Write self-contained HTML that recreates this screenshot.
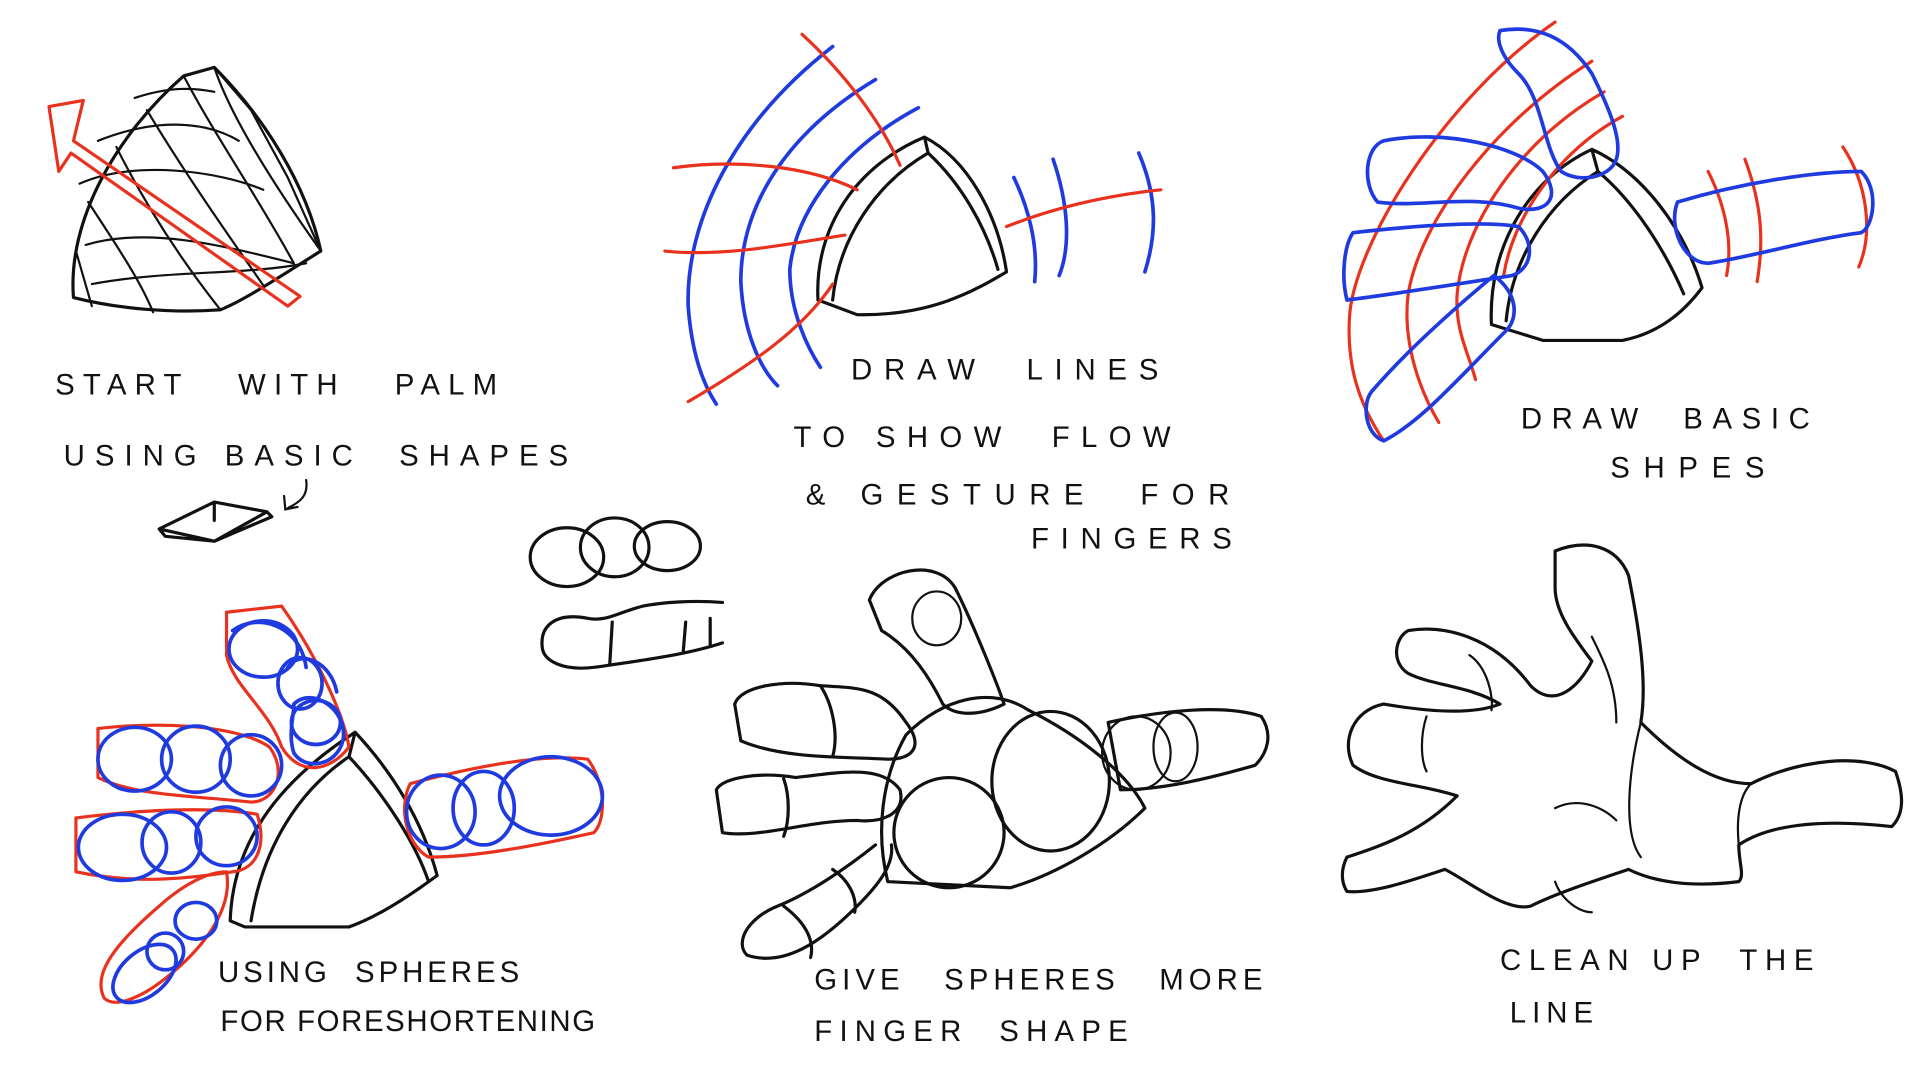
<!DOCTYPE html>
<html><head><meta charset="utf-8"><style>
html,body{margin:0;padding:0;background:#fff;width:1920px;height:1080px;overflow:hidden}
svg{display:block}
text{font-family:"Liberation Sans",sans-serif;font-size:24px;letter-spacing:4px;fill:#111}
.k{fill:none;stroke:#111;stroke-width:2.6;stroke-linecap:round;stroke-linejoin:round}
.kt{fill:none;stroke:#111;stroke-width:1.8;stroke-linecap:round}
.r{fill:none;stroke:#e8321e;stroke-width:2.6;stroke-linecap:round;stroke-linejoin:round}
.b{fill:none;stroke:#1f3be0;stroke-width:3;stroke-linecap:round;stroke-linejoin:round}
</style></head><body>
<svg width="1920" height="1080" viewBox="0 0 1568 882" preserveAspectRatio="none">
<path class="k" d="M60,243 C55,180 95,110 150,62 L175,55 C215,95 250,150 262,205 C230,225 200,245 180,253 C140,256 95,252 60,243 Z"/>
<path class="kt" d="M175,55 L205,90 L235,145 L262,205 M70,200 C120,185 180,200 240,215 M65,150 C110,130 180,140 215,155 M80,115 C130,95 170,100 195,115 M110,80 C140,70 160,72 175,75 M75,232 C140,220 200,225 250,215"/>
<path class="kt" d="M150,62 C175,110 210,160 240,215 M120,90 C150,140 185,190 215,233 M95,120 C120,170 150,215 180,253 M72,165 C95,200 115,230 125,255 M62,205 L75,250 M175,55 C190,100 230,160 262,205"/>
<path class="r" d="M245,242 L60,115 L68,82 L40,87 L48,140 L58,125 L235,250 Z"/>
<text x="45" y="322" textLength="365" lengthAdjust="spacing">START &#160; WITH &#160; PALM</text>
<text x="52" y="380" textLength="416" lengthAdjust="spacing">USING BASIC &#160;SHAPES</text>
<path class="k" d="M130,432 L175,410 L218,418 L175,442 Z M175,410 L175,425 M130,432 L135,438 L175,442 L222,422 L218,418"/>
<path class="kt" d="M250,392 C252,405 245,410 235,415 M232,405 L233,416 L243,414"/>
<path class="k" d="M668,245 C665,185 700,135 755,112 C790,130 815,175 822,222 C795,238 760,258 700,257 Z M680,245 C685,195 715,150 758,125 C785,150 805,185 815,220 M755,112 L758,125"/>
<path class="b" d="M680,38 C600,100 560,180 562,250 C565,290 575,315 585,330"/>
<path class="b" d="M715,65 C640,110 605,170 605,230 C607,270 620,300 635,315"/>
<path class="b" d="M750,88 C690,120 650,170 645,220 C645,255 660,285 670,300"/>
<path class="b" d="M828,145 C840,170 848,200 845,230 M860,130 C872,165 875,200 865,225 M930,125 C945,160 945,190 935,222"/>
<path class="r" d="M655,28 C690,60 720,100 735,135 M550,137 C600,130 660,135 700,155 M543,205 C590,210 640,200 690,192 M562,328 C610,300 655,270 680,232 M822,185 C860,170 900,160 948,155"/>
<text x="695" y="310" textLength="255" lengthAdjust="spacing">DRAW &#160;LINES</text>
<text x="648" y="365" textLength="312" lengthAdjust="spacing">TO SHOW &#160;FLOW</text>
<text x="658" y="412" textLength="350" lengthAdjust="spacing">&amp; GESTURE &#160;FOR</text>
<text x="842" y="448" textLength="168" lengthAdjust="spacing">FINGERS</text>
<path class="k" d="M1218,265 C1215,200 1250,145 1300,122 C1340,140 1375,185 1390,235 C1375,255 1355,272 1325,278 L1260,278 Z M1230,262 C1235,210 1265,165 1305,140 C1335,165 1360,205 1375,240 M1300,122 L1305,140"/>
<path class="r" d="M1270,18 C1180,80 1105,200 1102,260 C1100,300 1110,330 1130,360"/>
<path class="r" d="M1300,50 C1220,100 1160,180 1150,240 C1145,280 1160,320 1175,345 M1310,75 C1240,115 1195,185 1190,240 C1188,270 1200,290 1205,310 M1325,95 C1270,125 1235,180 1228,225"/>
<path class="r" d="M1395,140 C1410,170 1415,200 1410,225 M1425,130 C1440,170 1440,200 1435,230 M1505,120 C1525,150 1530,190 1518,218"/>
<path class="b" d="M1225,25 C1255,20 1280,30 1300,60 C1315,90 1325,115 1320,130 C1315,145 1290,150 1275,140 C1260,120 1260,80 1240,60 C1225,45 1222,32 1225,25 Z"/>
<path class="b" d="M1130,115 C1180,105 1240,120 1260,140 C1275,160 1265,175 1240,170 C1200,158 1160,170 1125,165 C1112,150 1115,120 1130,115 Z"/>
<path class="b" d="M1105,190 C1150,185 1210,180 1240,185 C1255,200 1250,220 1235,225 C1190,232 1140,240 1100,245 C1095,225 1098,200 1105,190 Z"/>
<path class="b" d="M1220,225 C1240,240 1240,260 1230,270 C1190,310 1160,345 1130,360 C1115,355 1112,330 1120,320 C1150,285 1190,250 1220,225 Z"/>
<path class="b" d="M1370,165 C1420,150 1480,140 1520,140 C1535,155 1530,185 1520,190 C1480,195 1430,210 1395,215 C1375,215 1362,185 1370,165 Z"/>
<text x="1242" y="350" textLength="240" lengthAdjust="spacing">DRAW &#160;BASIC</text>
<text x="1315" y="390" textLength="130" lengthAdjust="spacing">SHPES</text>
<ellipse class="k" cx="463" cy="455" rx="30" ry="24"/><ellipse class="k" cx="502" cy="447" rx="28" ry="24"/><ellipse class="k" cx="545" cy="446" rx="27" ry="20"/>
<path class="k" d="M590,492 C565,490 540,492 525,495 C505,500 495,508 480,505 C455,500 440,510 443,530 C445,540 460,548 485,545 C520,540 560,535 590,525 M500,508 L498,542 M560,508 L558,532 M580,505 L580,528"/>
<path class="k" d="M188,752 C190,690 225,640 290,598 C320,630 345,670 357,715 C330,735 305,750 285,757 L200,757 Z M205,752 C215,690 245,645 285,618 C315,650 340,690 350,720 M290,598 L285,618"/>
<path class="r" d="M185,500 L230,495 C255,530 280,580 285,610 C270,630 245,635 230,610 C220,580 190,560 185,535 Z"/>
<path class="b" d="M190,515 C210,500 245,510 250,545 M235,545 C245,530 270,540 275,565 M240,575 C255,560 285,580 280,605 C275,625 250,630 240,615 C235,600 240,585 240,575"/>
<ellipse class="b" cx="215" cy="530" rx="28" ry="23"/><ellipse class="b" cx="245" cy="558" rx="18" ry="21"/><ellipse class="b" cx="258" cy="590" rx="20" ry="18"/>
<path class="r" d="M80,595 C120,590 190,590 220,610 C235,630 225,655 205,655 C160,650 110,650 80,635 Z"/>
<ellipse class="b" cx="110" cy="620" rx="30" ry="26"/><ellipse class="b" cx="160" cy="620" rx="28" ry="27"/><ellipse class="b" cx="205" cy="625" rx="25" ry="25"/>
<path class="r" d="M62,668 C110,662 170,658 210,665 C218,690 210,710 190,712 C150,718 110,722 62,712 Z"/>
<ellipse class="b" cx="100" cy="692" rx="36" ry="27"/><ellipse class="b" cx="140" cy="688" rx="24" ry="25"/><ellipse class="b" cx="185" cy="683" rx="25" ry="24"/>
<path class="r" d="M185,712 C190,740 170,770 140,795 C120,812 95,825 85,815 C75,795 95,770 130,740 C150,722 170,712 185,712 Z"/>
<ellipse class="b" cx="118" cy="795" rx="30" ry="18" transform="rotate(-40 118 795)"/><ellipse class="b" cx="135" cy="777" rx="15" ry="15"/><ellipse class="b" cx="160" cy="752" rx="17" ry="15"/>
<path class="r" d="M335,640 C380,628 440,615 480,620 C495,640 495,670 485,680 C440,690 390,700 350,700 C332,690 325,660 335,640 Z"/>
<ellipse class="b" cx="360" cy="663" rx="28" ry="30"/><ellipse class="b" cx="395" cy="660" rx="25" ry="30"/><ellipse class="b" cx="450" cy="650" rx="42" ry="32"/>
<text x="178" y="802" textLength="250" lengthAdjust="spacing">USING &#160;SPHERES</text>
<text x="180" y="842" textLength="310" lengthAdjust="spacing">FOR FORESHORTENING</text>
<path class="k" d="M725,720 C715,680 720,635 740,600 C770,570 810,560 840,580 C880,600 920,630 935,660 C905,690 860,715 825,725 Z"/>
<ellipse class="k" cx="858" cy="638" rx="48" ry="57"/>
<ellipse class="k" cx="775" cy="680" rx="45" ry="45"/>
<path class="k" d="M710,490 C720,465 765,455 780,480 C795,510 815,560 820,575 C800,585 780,585 770,575 C760,555 745,530 720,515 Z"/>
<ellipse class="kt" cx="765" cy="505" rx="20" ry="22"/>
<path class="k" d="M600,575 C605,560 640,555 670,560 C700,562 720,560 740,590 C755,610 745,620 725,620 C690,618 640,620 605,605 Z M670,560 C680,575 685,600 680,618"/>
<path class="k" d="M585,645 C590,635 620,630 650,635 C690,630 720,625 735,645 C740,665 720,672 700,670 C660,670 620,685 590,680 Z M640,636 C645,650 645,670 640,683"/>
<path class="k" d="M905,590 C950,580 1000,575 1030,585 C1040,600 1035,615 1025,625 C990,635 950,645 915,645 Z"/>
<ellipse class="kt" cx="928" cy="615" rx="28" ry="30"/><ellipse class="kt" cx="960" cy="610" rx="18" ry="28"/>
<path class="k" d="M715,690 C690,710 660,730 635,740 C610,750 600,770 610,780 C640,790 670,770 700,740 C720,720 730,705 728,690 M640,740 C660,755 665,770 662,782 M680,710 C695,720 700,735 698,745"/>
<text x="665" y="808" textLength="370" lengthAdjust="spacing">GIVE &#160; SPHERES &#160; MORE</text>
<text x="665" y="850" textLength="260" lengthAdjust="spacing">FINGER &#160;SHAPE</text>
<path class="k" d="M1270,450 C1295,440 1320,445 1330,470 C1340,520 1345,560 1340,590 C1370,620 1400,640 1430,640 C1470,620 1520,615 1548,630 C1555,650 1555,665 1545,675 C1500,670 1450,670 1420,690 C1420,705 1425,715 1420,720 C1380,725 1350,720 1330,710 C1300,720 1270,730 1250,740 C1230,745 1200,720 1180,710 C1150,720 1120,730 1100,728 C1095,720 1095,710 1100,700 C1130,690 1160,680 1190,650 C1160,640 1125,640 1105,625 C1095,605 1105,580 1130,575 C1160,580 1200,585 1225,575 C1200,560 1170,560 1150,550 C1135,540 1140,520 1150,515 C1180,510 1220,520 1250,560 C1270,580 1290,560 1300,540 C1285,520 1270,500 1270,480 Z"/>
<path class="kt" d="M1300,520 C1310,540 1320,560 1320,590 M1340,590 C1330,630 1325,680 1340,700 M1270,660 C1290,650 1310,660 1320,670 M1200,535 C1215,545 1220,570 1218,580 M1165,585 C1160,600 1160,620 1165,630 M1430,640 C1420,650 1418,670 1420,690 M1270,720 C1275,735 1290,745 1300,745"/>
<text x="1225" y="792" textLength="260" lengthAdjust="spacing">CLEAN UP &#160;THE</text>
<text x="1233" y="835" textLength="72" lengthAdjust="spacing">LINE</text>
</svg>
</body></html>
